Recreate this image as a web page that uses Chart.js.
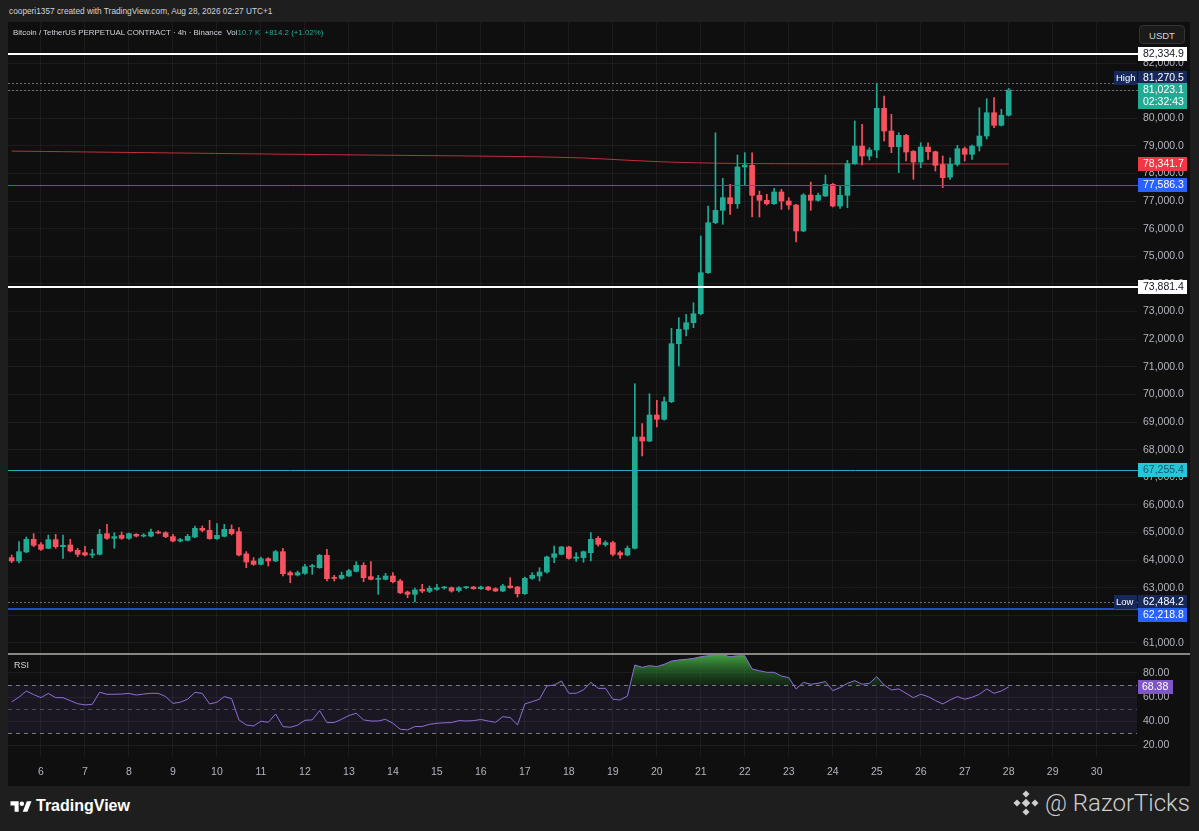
<!DOCTYPE html>
<html>
<head>
<meta charset="utf-8">
<script src="https://cdn.jsdelivr.net/npm/chart.js@4.4.1/dist/chart.umd.min.js"></script>
<style>
  html, body { margin: 0; padding: 0; width: 1199px; height: 831px; overflow: hidden; background: #1e1e1e; font-family: "Liberation Sans", Arial, sans-serif; }
  #pane { position: absolute; left: 8px; top: 22px; width: 1182px; height: 764px; background: #0f0f0f; }
  #byline { position: absolute; left: 9px; top: 6px; font-size: 8.3px; color: #d1d4dc; }
  #legend { position: absolute; left: 13px; top: 28px; font-size: 7.9px; color: #d1d4dc; z-index: 5; white-space: nowrap; }
  #legend .g { color: #22ab94; }
  #usdt { position: absolute; left: 1139px; top: 25px; width: 46px; height: 19px; line-height: 19px; text-align: center; font-size: 9.5px; color: #d1d4dc; background: #1b1b1b; border: 1px solid #333; border-radius: 4px; box-sizing: border-box; z-index: 5; }
  #rsiName { position: absolute; left: 14px; top: 660px; font-size: 9px; color: #d1d4dc; z-index: 5; }
  #sep { position: absolute; left: 8px; top: 653px; width: 1182px; height: 2px; background: #8a8783; z-index: 4; }
  canvas { position: absolute; }
  #price { left: 8px; top: 22px; }
  #rsi { left: 8px; top: 655px; }
  #tv { position: absolute; left: 10px; top: 797px; display: flex; align-items: center; gap: 4px; color: #fff; font-weight: bold; font-size: 16px; }
  #razor { position: absolute; right: 9px; top: 789px; display: flex; align-items: center; gap: 5px; color: #cfcfcf; font-family: Roboto, sans-serif; font-weight: 300; font-size: 24px; }
</style>
</head>
<body>
<div id="pane"></div>
<div id="byline">cooperi1357 created with TradingView.com, Aug 28, 2026 02:27 UTC+1</div>
<div id="legend">Bitcoin / TetherUS PERPETUAL CONTRACT · 4h · Binance&nbsp; Vol<span class="g">10.7 K&nbsp; +814.2 (+1.02%)</span></div>
<div id="usdt">USDT</div>
<canvas id="price" width="1182" height="631"></canvas>
<div id="sep"></div>
<canvas id="rsi" width="1182" height="131"></canvas>
<div id="rsiName">RSI</div>
<div id="tv">
  <svg width="22" height="14" viewBox="0 0 36 24"><path d="M14 22H7V11H0V4h14z M29 22h-8l7-18h8z" fill="#fff"/><circle cx="19.5" cy="8" r="3.8" fill="#fff"/></svg>
  <span>TradingView</span>
</div>
<div id="razor">
  <svg width="28" height="28" viewBox="0 0 28 28" fill="#cfcfcf">
    <rect x="11" y="11" width="6" height="6" transform="rotate(45 14 14)"/>
    <rect x="11.5" y="2.5" width="5" height="5" transform="rotate(45 14 5)"/>
    <rect x="11.5" y="20.5" width="5" height="5" transform="rotate(45 14 23)"/>
    <rect x="2.5" y="11.5" width="5" height="5" transform="rotate(45 5 14)"/>
    <rect x="20.5" y="11.5" width="5" height="5" transform="rotate(45 23 14)"/>
  </svg>
  <span>@ RazorTicks</span>
</div>

<script>
// ---- data (4h candles, Aug 5 08:00 -> Aug 28 00:00) ----
const dayLabels = ['6','7','8','9','10','11','12','13','14','15','16','17','18','19','20','21','22','23','24','25','26','27','28','29','30'];

const opens = [
  64089,63968,64294,64753,64560,64427,64740,64487,64548,64354,
  64270,64185,64210,64958,64789,64900,64789,64934,64870,64870,
  65018,64990,64850,64692,64716,64837,65151,65079,64777,64862,
  65115,65030,64223,63968,63847,64052,63968,64306,63545,63460,
  63520,63761,63725,64174,63364,63340,63424,63593,63810,63400,
  63304,63304,63424,63243,62845,62761,62940,62869,62940,62990,
  63000,62900,63000,63026,62965,63026,62965,62881,63062,63026,
  62784,63340,63424,63569,64100,64210,64475,64064,64089,64270,
  64789,64560,64632,64270,64185,64427,68457,68312,69254,69097,
  69736,71836,72357,72596,72922,74407,76217,76666,77123,76905,
  78234,78295,77209,77028,76905,77329,77003,76858,75917,77220,
  77028,77185,77608,76822,77209,78354,78995,78632,78850,80360,
  79538,78969,79382,78800,78415,78958,78788,78320,77870,78332,
  78897,78694,78995,79357,80200,79744,80106
];
const highs = [
  64185,64668,64837,64958,64632,64909,64934,64909,64753,64427,
  64499,64391,65115,65296,64994,65018,64982,64958,64958,65127,
  65067,65030,64934,64789,64934,65236,65236,65441,65320,65296,
  65272,65175,64306,64089,64113,64089,64354,64427,63605,63605,
  63847,63847,64210,64391,63448,63569,63665,63943,63907,63943,
  63448,63520,63545,63304,62881,62990,63123,63062,63123,63050,
  63030,63040,63050,63050,63060,63050,63000,63123,63364,63050,
  63388,63545,63725,64150,64510,64499,64500,64270,64330,64994,
  64850,64700,64680,64330,64510,70387,68939,70025,69786,69906,
  72393,72777,72900,73320,75736,76822,79476,77825,77608,78669,
  78752,78752,77365,77246,77463,77427,77123,76882,77268,77691,
  77290,77944,77640,77546,78477,79900,79780,78933,81270.5,80805,
  80142,79476,79420,78830,79114,79114,78810,78632,78571,79020,
  78958,79031,80381,80707,80744,80324,81080
];
const lows = [
  63907,63895,64270,64487,64354,64414,64427,64064,64294,64125,
  64149,64089,64185,64753,64427,64753,64753,64837,64837,64837,
  64958,64813,64656,64656,64692,64813,65030,64753,64753,64837,
  64909,64149,63725,63811,63822,63786,63943,63424,63182,63424,
  63484,63484,63703,63243,63243,63303,63400,63569,63219,63280,
  62761,63280,63170,62785,62639,62484.2,62820,62820,62900,62950,
  62840,62850,62960,62940,62940,62900,62860,62860,62980,62663,
  62760,63300,63243,63530,63907,64190,64030,63950,63920,63968,
  64500,64500,64150,64064,64150,64400,67769,68290,68820,69070,
  69700,71028,72115,72415,72880,74380,76180,76159,76521,76739,
  77582,76424,76424,76858,76880,76702,76702,75518,75890,76666,
  77000,77160,76786,76739,76760,78330,78307,78488,78571,79176,
  78752,78028,78451,77789,78209,78513,78089,77485,77789,78270,
  78451,78513,78813,79248,79657,79719,80080
];
const closes = [
  63968,64306,64753,64536,64391,64740,64487,64536,64330,64210,
  64185,64210,64934,64789,64850,64789,64958,64870,64900,65018,
  64980,64850,64692,64740,64862,65151,65079,64777,64898,65115,
  64958,64185,63931,63847,64052,63968,64306,63508,63460,63545,
  63761,63786,64174,63327,63340,63448,63617,63810,63364,63304,
  63340,63424,63219,62820,62761,62917,62881,62978,63000,63000,
  62881,63000,63010,62965,63026,62930,62881,63062,63000,62784,
  63340,63448,63569,64113,64230,64475,64064,64113,64306,64753,
  64572,64632,64210,64185,64427,68457,68312,69254,69097,69736,
  71836,72357,72596,72922,74407,76217,76666,77123,76905,78234,
  78307,77209,77028,76905,77329,77003,76858,75917,77220,77028,
  77209,77608,76822,77209,78354,78995,78632,78850,80360,79538,
  78969,79382,78777,78415,78958,78788,78296,77847,78332,78897,
  78694,78995,79357,80200,79744,80106,81023.1
];
const rsiValues = [
  56,60,65,62,59.5,63,59.5,59.5,57,54.5,
  53.5,54,64,62.3,62.3,62.5,63,61.7,62.5,63.1,
  63.1,60.4,54.8,55.7,58.2,63.9,63,54.3,55.7,60.4,
  58.7,41.1,36.9,36.1,40,39.1,46,35.6,35,36.7,
  40.8,41.1,48.8,38.9,38.9,41.6,44.7,46.6,41.1,40.2,
  40.2,41.6,38.3,33.4,32.8,35.6,35.6,37.5,38.3,38.7,
  38.9,40.5,40.2,40.5,41.4,40.2,39.1,43.8,43,37,
  54.3,56.2,58.2,69.2,70,73.3,63.1,63.1,65.9,72.2,
  67.2,67.2,58.2,57.6,60.9,86.5,84.6,86,85.2,87.1,
  89.8,90.7,91.2,92,93.4,94.2,95,95,93.4,94.2,
  94.2,83.2,81.8,80.5,80.5,77.4,76.1,66.7,72.2,70.6,
  71.4,72.8,65.3,67.8,71.4,73.6,70.6,71.4,76.9,70,
  65.9,66.7,63.1,59.5,62.3,60.4,57.1,54.3,57.6,60.4,
  58.2,59.8,62.3,66.7,63.1,65,68.38
];
// moving average (red) read at a few candles
const maIndex = [0, 40, 70, 78, 84, 90, 100, 136];
const maValues = [78810, 78690, 78610, 78560, 78480, 78410, 78360, 78341.7];

// horizontal levels and axis tags
const linePrices = [82334.9, 77586.3, 73881.4, 67255.4, 62218.8, 81270.5, 81023.1, 62484.2];
const tagPrices = [82334.9, 81270.5, 81023.1, 78341.7, 77586.3, 73881.4, 67255.4, 62484.2, 62218.8];
const rsiLast = 68.38;

const priceTicks = [61000,62000,63000,64000,65000,66000,67000,68000,69000,70000,71000,72000,73000,74000,75000,76000,77000,78000,79000,80000,81000,82000];
const rsiTicks = [20, 40, 60, 80];
const rsiLevels = [70, 50, 30];

// ---- styles ----
const UP = '#22ab94', DOWN = '#f7525f';
const GRID = 'rgba(255,255,255,0.055)';
const AXIS_TXT = '#b2b5be';
const lineStyles = [
  {color: '#ffffff', width: 2},
  {color: '#2f5bff', width: 1},
  {color: '#ffffff', width: 2},
  {color: '#2aa7c0', width: 1},
  {color: '#2962ff', width: 1.5},
  {color: '#6a6d78', width: 1, dash: [2, 2]},
  {color: '#6a6d78', width: 1, dash: [2, 2]},
  {color: '#6a6d78', width: 1, dash: [2, 2]}
];
const tagStyles = [
  {bg: '#ffffff', fg: '#131722'},
  {bg: '#16295a', fg: '#ffffff', prefix: 'High', dy: -5},
  {bg: UP, fg: '#ffffff', sub: '02:32:43'},
  {bg: '#f23645', fg: '#ffffff'},
  {bg: '#2962ff', fg: '#ffffff'},
  {bg: '#ffffff', fg: '#131722'},
  {bg: '#26c6da', fg: '#0f5a66'},
  {bg: '#16295a', fg: '#ffffff', prefix: 'Low'},
  {bg: '#2962ff', fg: '#ffffff', dy: 6}
];

const N = 154; // slots visible (incl. empty future space)
const slotLabels = [];
for (let i = 0; i < N; i++) {
  const k = (i - 4) / 6;
  slotLabels.push(Number.isInteger(k) && k >= 0 && k < dayLabels.length ? dayLabels[k] : '');
}
const candleColors = closes.map((c, i) => c >= opens[i] ? UP : DOWN);
const maSeries = new Array(closes.length).fill(null);
maIndex.forEach((ix, k) => { maSeries[ix] = maValues[k]; });

const fmt = v => v.toLocaleString('en-US', {minimumFractionDigits: 1, maximumFractionDigits: 1});
const FONT = '"Liberation Sans", Arial, sans-serif';
const dayTicksOnly = s => { s.ticks = s.ticks.filter(t => slotLabels[t.value] !== ''); };
const fixY = s => { s.width = 53; s.paddingTop = 0; s.paddingBottom = 0; };

const levelPlugin = {
  id: 'levels',
  afterDatasetsDraw(chart) {
    const {ctx, chartArea: a, scales: {y}} = chart;
    ctx.save();
    linePrices.forEach((p, k) => {
      const s = lineStyles[k];
      const py = Math.round(y.getPixelForValue(p)) + (s.width === 1 ? 0.5 : 0);
      ctx.strokeStyle = s.color;
      ctx.lineWidth = s.width;
      ctx.setLineDash(s.dash || []);
      ctx.beginPath(); ctx.moveTo(a.left, py); ctx.lineTo(a.right + 1, py); ctx.stroke();
    });
    ctx.restore();
  },
  afterDraw(chart) {
    const {ctx, chartArea: a, scales: {y}} = chart;
    ctx.save();
    ctx.font = '10.5px ' + FONT;
    ctx.textBaseline = 'middle';
    const x0 = a.right + 1, w = 49;
    tagPrices.forEach((p, k) => {
      const s = tagStyles[k];
      const cy = Math.round(y.getPixelForValue(p)) + (s.dy || 0);
      const h = s.sub ? 26 : 14;
      const top = cy - 7;
      ctx.fillStyle = s.bg;
      ctx.fillRect(x0, top, w, h);
      ctx.fillStyle = s.fg;
      ctx.textAlign = 'left';
      ctx.fillText(fmt(p), x0 + 5, cy + 0.5);
      if (s.sub) ctx.fillText(s.sub, x0 + 5, cy + 12.5);
      if (s.prefix) {
        ctx.fillStyle = s.bg;
        ctx.fillRect(x0 - 24, top, 23, h);
        ctx.fillStyle = s.fg;
        ctx.font = '9.5px ' + FONT;
        ctx.fillText(s.prefix, x0 - 22, cy + 0.5);
        ctx.font = '10.5px ' + FONT;
      }
    });
    ctx.restore();
  }
};

new Chart(document.getElementById('price'), {
  data: {
    labels: slotLabels,
    datasets: [
      {type: 'line', data: maSeries, borderColor: '#c0303c', borderWidth: 1, pointRadius: 0, spanGaps: true, tension: 0.3, order: 3},
      {type: 'bar', data: lows.map((l, i) => [l, highs[i]]), backgroundColor: candleColors, barThickness: 1, grouped: false, order: 2},
      {type: 'bar', data: opens.map((o, i) => [o, closes[i]]), backgroundColor: candleColors, barThickness: 5, minBarLength: 1, grouped: false, order: 1}
    ]
  },
  options: {
    responsive: false, animation: false, events: [],
    layout: {padding: 0},
    plugins: {legend: {display: false}, tooltip: {enabled: false}},
    scales: {
      x: {
        type: 'category', offset: true,
        grid: {color: GRID, offset: false, drawTicks: false},
        border: {display: false},
        ticks: {display: false},
        afterBuildTicks: dayTicksOnly,
        afterFit: s => { s.height = 0; s.paddingLeft = 0; s.paddingRight = 0; }
      },
      y: {
        position: 'right', min: 60636, max: 83485,
        afterBuildTicks: s => { s.ticks = priceTicks.map(v => ({value: v})); },
        afterFit: fixY,
        grid: {color: GRID, drawTicks: false},
        border: {display: false},
        ticks: {color: AXIS_TXT, padding: 6, font: {size: 10.5, family: FONT}, callback: v => fmt(v)}
      }
    }
  },
  plugins: [levelPlugin]
});

// ---- RSI pane ----
const rsiCanvas = document.getElementById('rsi');
const grad = rsiCanvas.getContext('2d').createLinearGradient(0, 0, 0, 30);
grad.addColorStop(0, 'rgba(70,170,70,0.95)');
grad.addColorStop(1, 'rgba(25,80,30,0.35)');

const rsiPlugin = {
  id: 'rsiBand',
  beforeDatasetsDraw(chart) {
    const {ctx, chartArea: a, scales: {y}} = chart;
    ctx.save();
    const y70 = y.getPixelForValue(rsiLevels[0]), y30 = y.getPixelForValue(rsiLevels[2]);
    ctx.fillStyle = 'rgba(126,87,194,0.11)';
    ctx.fillRect(a.left, y70, a.right - a.left, y30 - y70);
    rsiLevels.forEach((v, k) => {
      const py = Math.round(y.getPixelForValue(v)) + 0.5;
      ctx.strokeStyle = k === 1 ? 'rgba(120,123,134,0.55)' : '#787b86';
      ctx.lineWidth = 1;
      ctx.setLineDash([4, 4]);
      ctx.beginPath(); ctx.moveTo(a.left, py); ctx.lineTo(a.right, py); ctx.stroke();
    });
    ctx.restore();
  },
  afterDraw(chart) {
    const {ctx, chartArea: a, scales: {y}} = chart;
    ctx.save();
    const cy = Math.round(y.getPixelForValue(rsiLast));
    ctx.fillStyle = '#7e57c2';
    ctx.fillRect(a.right + 1, cy - 7, 35, 14);
    ctx.fillStyle = '#ffffff';
    ctx.font = '10.5px ' + FONT;
    ctx.textBaseline = 'middle';
    ctx.fillText(rsiLast.toFixed(2), a.right + 5, cy + 0.5);
    ctx.restore();
  }
};

new Chart(rsiCanvas, {
  type: 'line',
  data: {
    labels: slotLabels,
    datasets: [{
      data: rsiValues, borderColor: '#8e6fd8', borderWidth: 1, pointRadius: 0,
      fill: {target: {value: 70}, above: grad, below: 'rgba(0,0,0,0)'}
    }]
  },
  options: {
    responsive: false, animation: false, events: [],
    layout: {padding: 0},
    plugins: {legend: {display: false}, tooltip: {enabled: false}},
    scales: {
      x: {
        type: 'category', offset: true,
        grid: {color: GRID, offset: false, drawTicks: false},
        border: {display: false},
        ticks: {color: AXIS_TXT, autoSkip: false, maxRotation: 0, padding: 9, font: {size: 10.5, family: FONT}},
        afterBuildTicks: dayTicksOnly,
        afterFit: s => { s.height = 29; s.paddingLeft = 0; s.paddingRight = 0; }
      },
      y: {
        position: 'right', min: 10.4, max: 94.8,
        afterBuildTicks: s => { s.ticks = rsiTicks.map(v => ({value: v})); },
        afterFit: fixY,
        grid: {color: GRID, drawTicks: false},
        border: {display: false},
        ticks: {color: AXIS_TXT, padding: 6, font: {size: 10.5, family: FONT}, callback: v => v.toFixed(2)}
      }
    }
  },
  plugins: [rsiPlugin]
});
</script>
</body>
</html>
